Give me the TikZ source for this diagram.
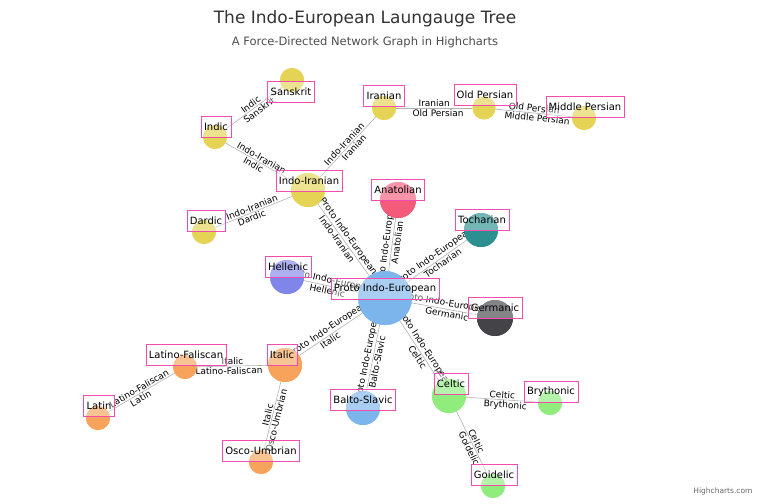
\documentclass[tikz,border=0pt]{standalone}
\usepackage{fontspec}
\setmainfont{DejaVu Sans}
\begin{document}
\begin{tikzpicture}[x=1pt,y=-1pt,
  dot/.style={circle,inner sep=0pt,draw=none},
  lbl/.style={draw=magenta!70!white,fill=white,fill opacity=0.35,text opacity=1,font=\fontsize{10}{11}\selectfont,inner xsep=3pt,inner ysep=2pt,minimum height=21pt},
  edge/.style={draw=gray!60,line width=0.6pt},
  el/.style={font=\fontsize{9}{10}\selectfont,sloped,inner sep=1pt}]
\useasboundingbox (0,0) rectangle (762,503);
\definecolor{cY}{HTML}{E4D354}\definecolor{cB}{HTML}{7CB5EC}\definecolor{cR}{HTML}{F45B7B}
\definecolor{cT}{HTML}{2B908F}\definecolor{cV}{HTML}{8085E9}\definecolor{cK}{HTML}{434348}
\definecolor{cO}{HTML}{F7A35C}\definecolor{cG}{HTML}{90ED7D}
\node[font=\fontsize{17}{20}\selectfont,text=black!80] (title) at (365,19) {The Indo-European Laungauge Tree};
\node[font=\fontsize{11.5}{13}\selectfont,text=black!70] (sub) at (365,42) {A Force-Directed Network Graph in Highcharts};
\node[font=\fontsize{7.5}{9}\selectfont,text=black!60,anchor=east] (credit) at (756,491) {Highcharts.com};
% nodes
\node[dot,fill=cB,minimum size=54pt] (pie) at (385,298) {};
\node[dot,fill=cY,minimum size=34pt] (ii) at (308,190) {};
\node[dot,fill=cR,minimum size=36pt] (ana) at (398,200) {};
\node[dot,fill=cT,minimum size=34pt] (toc) at (481,230) {};
\node[dot,fill=cV,minimum size=34pt] (hel) at (287,277) {};
\node[dot,fill=cK,minimum size=36pt] (ger) at (495,318) {};
\node[dot,fill=cO,minimum size=34pt] (ita) at (285,365) {};
\node[dot,fill=cB,minimum size=34pt] (bs) at (363,408) {};
\node[dot,fill=cG,minimum size=34pt] (cel) at (449,396) {};
\node[dot,fill=cY,minimum size=24pt] (ira) at (384,108) {};
\node[dot,fill=cY,minimum size=23pt] (op) at (484,108) {};
\node[dot,fill=cY,minimum size=24pt] (mp) at (584,118) {};
\node[dot,fill=cY,minimum size=24pt] (ind) at (215,137) {};
\node[dot,fill=cY,minimum size=24pt] (san) at (292,80) {};
\node[dot,fill=cY,minimum size=24pt] (dar) at (204,232) {};
\node[dot,fill=cO,minimum size=24pt] (lf) at (185,367) {};
\node[dot,fill=cO,minimum size=24pt] (lat) at (98,418) {};
\node[dot,fill=cO,minimum size=24pt] (ou) at (261,462) {};
\node[dot,fill=cG,minimum size=24pt] (bry) at (550,403) {};
\node[dot,fill=cG,minimum size=24pt] (goi) at (493,486) {};
% edges
\foreach \a/\b/\ta/\tb in {pie/ii/Proto Indo-European/Indo-Iranian, pie/ana/Proto Indo-European/Anatolian, pie/toc/Proto Indo-European/Tocharian, pie/hel/Proto Indo-European/Hellenic, pie/ger/Proto Indo-European/Germanic, pie/ita/Proto Indo-European/Italic, pie/bs/Proto Indo-European/Balto-Slavic, pie/cel/Proto Indo-European/Celtic, ii/ira/Indo-Iranian/Iranian, ii/ind/Indo-Iranian/Indic, ii/dar/Indo-Iranian/Dardic, ira/op/Iranian/Old Persian, op/mp/Old Persian/Middle Persian, ind/san/Indic/Sanskrit, ita/lf/Italic/Latino-Faliscan, lf/lat/Latino-Faliscan/Latin, ita/ou/Italic/Osco-Umbrian, cel/bry/Celtic/Brythonic, cel/goi/Celtic/Goidelic}
  \path[edge] (\a) -- (\b) node[el,pos=0.5,above] {\ta} node[el,pos=0.55,below] {\tb};
% redraw dots above edges
\foreach \c/\s/\x/\y in {cB/54/385/298, cY/34/308/190, cR/36/398/200, cT/34/481/230, cV/34/287/277, cK/36/495/318, cO/34/285/365, cB/34/363/408, cG/34/449/396, cY/24/384/108, cY/23/484/108, cY/24/584/118, cY/24/215/137, cY/24/292/80, cY/24/204/232, cO/24/185/367, cO/24/98/418, cO/24/261/462, cG/24/550/403, cG/24/493/486}
  \fill[\c] (\x,\y) circle (\s/2);
% labels
\node[lbl] (lpie) at (385,289) {Proto Indo-European};
\node[lbl] (lii) at (309,181) {Indo-Iranian};
\node[lbl] (lana) at (398,190) {Anatolian};
\node[lbl] (ltoc) at (482,220) {Tocharian};
\node[lbl] (lhel) at (288,267) {Hellenic};
\node[lbl] (lger) at (495,308) {Germanic};
\node[lbl] (lita) at (282,355) {Italic};
\node[lbl] (lbs) at (363,400) {Balto-Slavic};
\node[lbl] (lcel) at (451,384) {Celtic};
\node[lbl] (lira) at (384,96) {Iranian};
\node[lbl] (lop) at (485,95) {Old Persian};
\node[lbl] (lmp) at (585,107) {Middle Persian};
\node[lbl] (lind) at (216,127) {Indic};
\node[lbl] (lsan) at (291,92) {Sanskrit};
\node[lbl] (ldar) at (206,221) {Dardic};
\node[lbl] (llf) at (186,355) {Latino-Faliscan};
\node[lbl] (llat) at (99,406) {Latin};
\node[lbl] (lou) at (261,451) {Osco-Umbrian};
\node[lbl] (lbry) at (551,392) {Brythonic};
\node[lbl] (lgoi) at (494,475) {Goidelic};
\end{tikzpicture}
\end{document}
